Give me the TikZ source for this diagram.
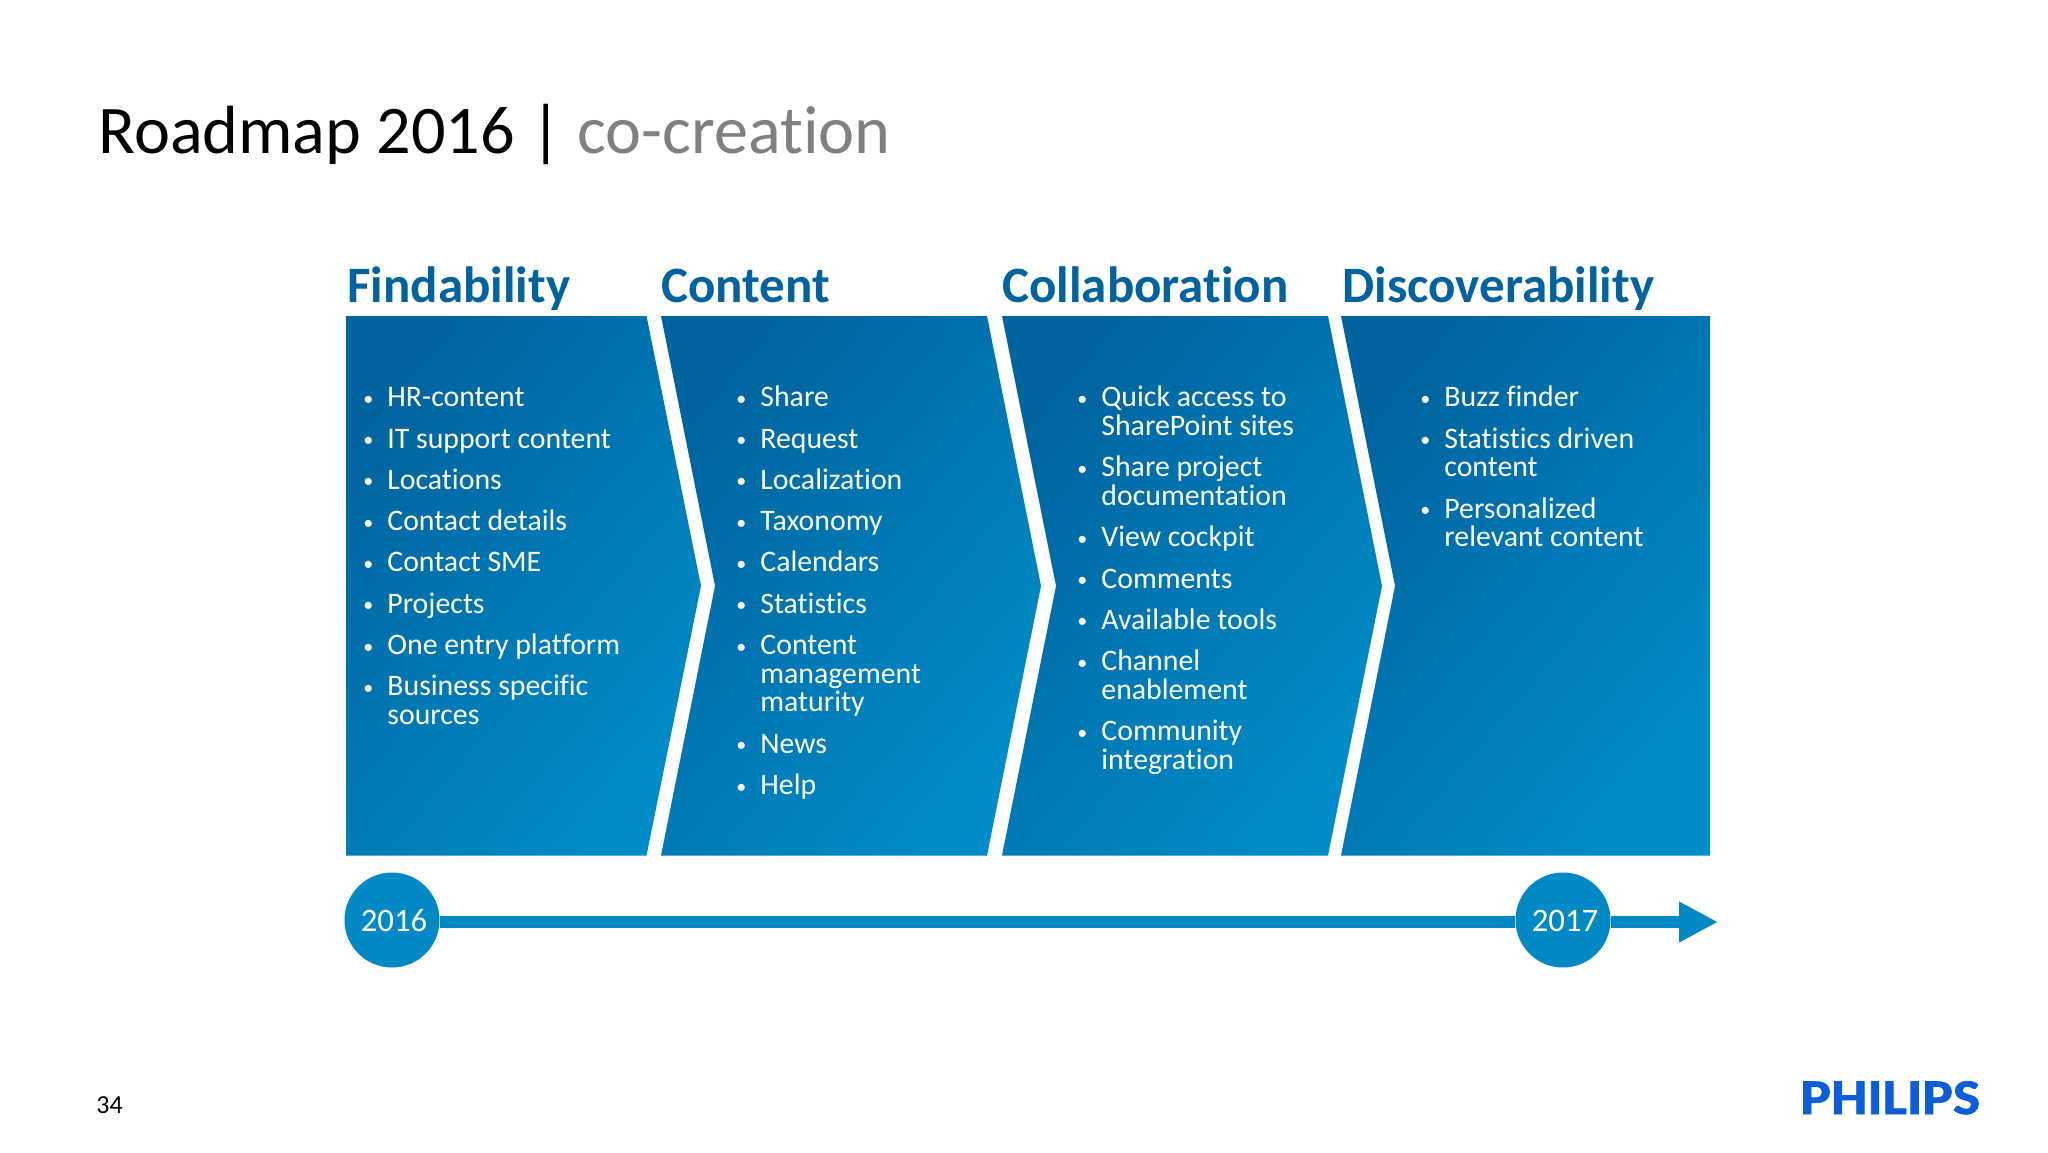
\documentclass[tikz,border=0pt]{standalone}
\usepackage{fontspec}
\setmainfont[Ligatures=NoCommon]{Carlito}
\newfontfamily\logofont[FakeBold=1.5]{Carlito Bold}
\usetikzlibrary{positioning, arrows.meta}
\tikzset{>=stealth}
\definecolor{headblue}{HTML}{00629E}
\definecolor{paneldark}{HTML}{00649F}
\definecolor{panellight}{HTML}{008CC8}
\definecolor{lineblue}{HTML}{0089C4}
\definecolor{logoblue}{HTML}{0B5ED7}
\definecolor{titlegray}{HTML}{808080}
\newcommand{\roaditem}[1]{\par\spaceskip=.226em\xspaceskip=.226em\hangindent=12.5pt\hangafter=1\noindent\hbox to 12.5pt{\kern0.5pt\raisebox{0.7pt}{\fontsize{10}{10}\selectfont\textbullet}\hfil}#1\par}
\newcommand{\yeartext}[1]{\rule{0pt}{11.7pt}\hspace{2pt}#1}
\tikzset{
	panelfill/.style={top color=paneldark, bottom color=panellight, shading angle=50, draw=none},
	headtext/.style={anchor=base west, inner sep=0, text=headblue, font=\fontsize{25.5}{30}\selectfont\bfseries},
	listtext/.style={anchor=north west, inner sep=0, text=white, text width=#1, align=left, font=\fontsize{14.9}{14.35}\selectfont\setlength{\parskip}{6.3pt}},
	yearnode/.style={circle, minimum size=47.5pt, inner sep=0, fill=lineblue, text=white, font=\fontsize{16.4}{19}\selectfont}
}
\begin{document}
\begin{tikzpicture}[x=0.5pt, y=-0.5pt]
	\useasboundingbox (0,0) rectangle (2048,1152);
	\node [anchor=base west, inner sep=0, font=\fontsize{34.1}{40}\selectfont] (titletext) at (98,153) {Roadmap 2016 | \textcolor{titlegray}{co-creation}};

	\shade [panelfill] (346,316) -- (646.5,316) -- (701,586) -- (646.5,855.5) -- (346,855.5) -- cycle;
	\shade [panelfill] (661,316) -- (987,316) -- (1041,586) -- (987,855.5) -- (661,855.5) -- (715,586) -- cycle;
	\shade [panelfill] (1002,316) -- (1328,316) -- (1382,586) -- (1328,855.5) -- (1002,855.5) -- (1056,586) -- cycle;
	\shade [panelfill] (1341,316) -- (1710,316) -- (1710,855.5) -- (1341,855.5) -- (1395,586) -- cycle;

	\node [headtext] (findhead) at (347,302) {Findability};
	\node [headtext] (contenthead) at (661,302) {Content};
	\node [headtext] (collabhead) at (1002,302) {Collaboration};
	\node [headtext] (discohead) at (1342,302) {Discoverability};

	\node [listtext=170pt] (findlist) at (362,365) {
		\roaditem{HR-content}
		\roaditem{IT support content}
		\roaditem{Locations}
		\roaditem{Contact details}
		\roaditem{Contact SME}
		\roaditem{Projects}
		\roaditem{One entry platform}
		\roaditem{Business specific\newline sources}
	};
	\node [listtext=130pt] (contentlist) at (735,365) {
		\roaditem{Share}
		\roaditem{Request}
		\roaditem{Localization}
		\roaditem{Taxonomy}
		\roaditem{Calendars}
		\roaditem{Statistics}
		\roaditem{Content\newline management\newline maturity}
		\roaditem{News}
		\roaditem{Help}
	};
	\node [listtext=130pt] (collablist) at (1076,365) {
		\roaditem{Quick access to\newline SharePoint sites}
		\roaditem{Share project\newline documentation}
		\roaditem{View cockpit}
		\roaditem{Comments}
		\roaditem{Available tools}
		\roaditem{Channel\newline enablement}
		\roaditem{Community\newline integration}
	};
	\node [listtext=130pt] (discolist) at (1419,365) {
		\roaditem{Buzz finder}
		\roaditem{Statistics driven\newline content}
		\roaditem{Personalized\newline relevant content}
	};

	\node [yearnode] (startyear) at (392,920) {\yeartext{2016}};
	\node [yearnode] (endyear) at (1563,920) {\yeartext{2017}};
	\coordinate (arrowend) at (1718,922);
	\draw [line width=6.25pt, lineblue] (startyear.east |- arrowend) -- (endyear.west |- arrowend);
	\draw [line width=6.25pt, lineblue, -{Triangle[length=19.5pt, width=19pt]}] (endyear.east |- arrowend) -- (arrowend);

	\node [anchor=base west, inner sep=0, font=\fontsize{13}{16}\selectfont] (pagenum) at (96,1113) {34};
	\node [anchor=base west, inner sep=0, text=logoblue, font=\fontsize{25}{30}\logofont] (logotext) at (1800,1114) {\scalebox{1.15}[1]{PHILIPS}};
\end{tikzpicture}
\end{document}
